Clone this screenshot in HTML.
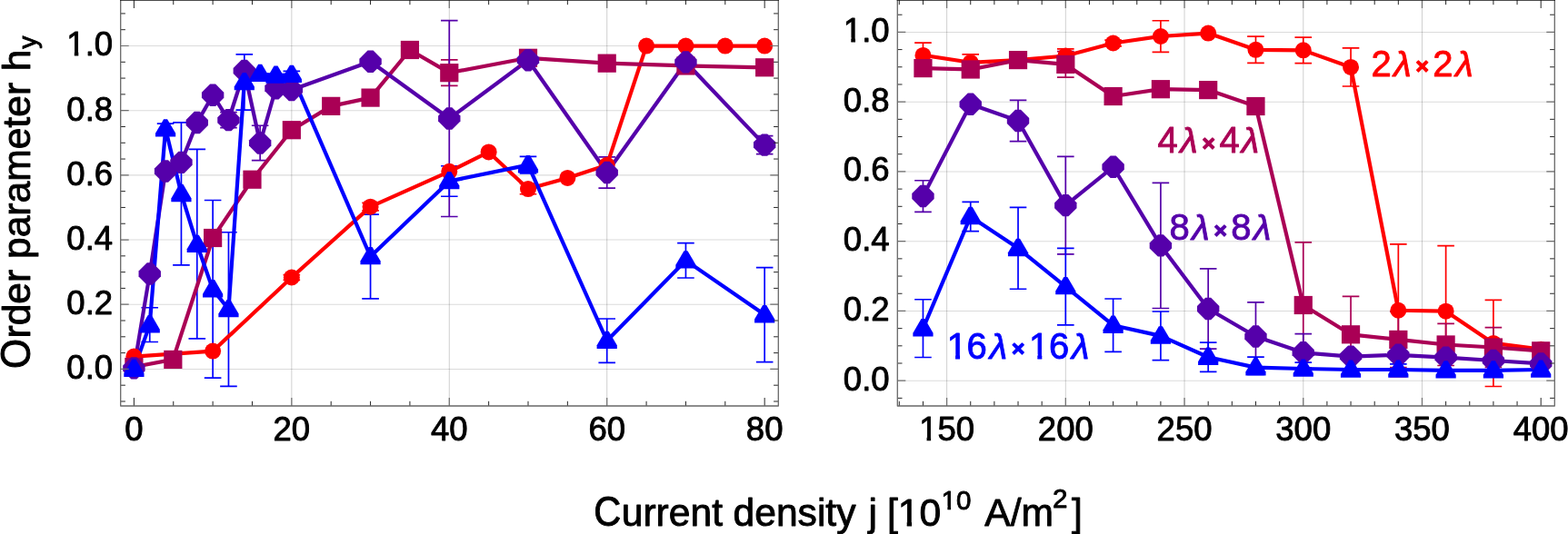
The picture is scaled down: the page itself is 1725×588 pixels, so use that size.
<!DOCTYPE html>
<html lang="en">
<head>
<meta charset="utf-8">
<title>Order parameter vs current density</title>
<style>
html,body{margin:0;padding:0;background:#fff;}
body{width:1725px;height:588px;overflow:hidden;font-family:"Liberation Sans",Arial,Helvetica,sans-serif;}
svg{display:block;}
</style>
</head>
<body>
<svg width="1725" height="588" viewBox="0 0 1725 588" font-family="'Liberation Sans', Arial, Helvetica, sans-serif">
<defs><clipPath id="one"><polygon points="6.6,-80 36,-80 36,3 23.2,3 23.2,-12.5 6.6,-12.5"/></clipPath></defs>
<rect width="1725" height="588" fill="#fff"/>
<g id="left-panel">
<g fill="none" stroke="#000" stroke-width="1.05"><path d="M320.84 0V447M494.28 0V447M667.72 0V447" stroke-opacity="0.18"/><path d="M132.7 406.4H856.3M132.7 335.22H856.3M132.7 264.04H856.3M132.7 192.86H856.3M132.7 121.68H856.3M132.7 50.5H856.3" stroke-opacity="0.14"/></g>
<g fill="none" stroke-width="1.7">
<path stroke="#ff0000" d="M320.84 302.65V308.35M311.54 302.65H330.14M311.54 308.35H330.14M407.56 223.36V231.91M398.26 223.36H416.86M398.26 231.91H416.86M581 202.34V213.74M571.7 202.34H590.3M571.7 213.74H590.3"/>
<path stroke="#aa0055" d="M494.28 65.92V94.41M484.98 65.92H503.58M484.98 94.41H503.58"/>
<path stroke="#5500aa" d="M251.46 123.62V140.72M242.16 123.62H260.76M242.16 140.72H260.76M286.15 138.23V176.69M276.85 138.23H295.45M276.85 176.69H295.45M494.28 22.64V238.5M484.98 22.64H503.58M484.98 238.5H503.58M667.72 172.95V207.15M658.42 172.95H677.02M658.42 207.15H677.02M841.16 149.62V169.57M831.86 149.62H850.46M831.86 169.57H850.46"/>
<path stroke="#0000ff" d="M164.74 338.77V376.52M155.44 338.77H174.04M155.44 376.52H174.04M182.09 136.09V147.49M172.79 136.09H191.39M172.79 147.49H191.39M199.43 134.84V291.93M190.13 134.84H208.73M190.13 291.93H208.73M216.78 164.41V372.96M207.48 164.41H226.08M207.48 372.96H226.08M234.12 220.51V416.06M224.82 220.51H243.42M224.82 416.06H243.42M251.46 255.77V425.32M242.16 255.77H260.76M242.16 425.32H260.76M268.81 59.86V121.13M259.51 59.86H278.11M259.51 121.13H278.11M320.84 78.38V86.22M311.54 78.38H330.14M311.54 86.22H330.14M407.56 236.18V328.79M398.26 236.18H416.86M398.26 328.79H416.86M494.28 182.75V216.23M484.98 182.75H503.58M484.98 216.23H503.58M581 172.42V190.94M571.7 172.42H590.3M571.7 190.94H590.3M667.72 351.02V399.46M658.42 351.02H677.02M658.42 399.46H677.02M754.44 267.53V306M745.14 267.53H763.74M745.14 306H763.74M841.16 294.6V398.61M831.86 294.6H850.46M831.86 398.61H850.46"/>
</g>
<g fill="none" stroke-width="4.2" stroke-linejoin="round">
<polyline stroke="#ff0000" points="147.4,392.55 234.12,386.6 320.84,305.5 407.56,227.63 494.28,188.81 537.64,167.43 581,208.04 624.36,195.93 667.72,181.86 711.08,50.6 754.44,50.6 797.8,50.6 841.16,50.6"/>
<polyline stroke="#aa0055" points="147.4,403.95 190.33,395.9 234.12,262 277.48,197.71 320.84,143.21 364.2,116.85 407.56,107.59 450.92,54.98 494.28,80.16 581,63.78 667.72,69.66 754.44,72.47 841.16,74.29"/>
<polyline stroke="#5500aa" points="147.4,405.38 164.74,301.51 182.09,188.45 199.43,178.83 216.78,135.02 234.12,104.74 251.46,132.17 268.81,78.03 286.15,157.46 303.5,97.26 320.84,99.04 407.56,67.7 494.28,130.57 581,66.27 667.72,190.05 754.44,68.41 841.16,159.6"/>
<polyline stroke="#0000ff" points="147.4,406.09 164.74,357.64 182.09,141.79 199.43,213.38 216.78,269.31 234.12,318.64 251.46,340.55 268.81,90.49 286.15,81.23 303.5,83.01 320.84,82.3 407.56,282.49 494.28,199.49 581,181.68 667.72,375.24 754.44,286.76 841.16,346.6"/>
</g>
<g fill="#ff0000">
<circle cx="147.4" cy="392.55" r="9"/>
<circle cx="234.12" cy="386.6" r="9"/>
<circle cx="320.84" cy="305.5" r="9"/>
<circle cx="407.56" cy="227.63" r="9"/>
<circle cx="494.28" cy="188.81" r="9"/>
<circle cx="537.64" cy="167.43" r="9"/>
<circle cx="581" cy="208.04" r="9"/>
<circle cx="624.36" cy="195.93" r="9"/>
<circle cx="667.72" cy="181.86" r="9"/>
<circle cx="711.08" cy="50.6" r="9"/>
<circle cx="754.44" cy="50.6" r="9"/>
<circle cx="797.8" cy="50.6" r="9"/>
<circle cx="841.16" cy="50.6" r="9"/>
</g>
<g fill="#aa0055">
<rect x="137.3" y="393.85" width="20.2" height="20.2"/>
<rect x="180.23" y="385.8" width="20.2" height="20.2"/>
<rect x="224.02" y="251.9" width="20.2" height="20.2"/>
<rect x="267.38" y="187.61" width="20.2" height="20.2"/>
<rect x="310.74" y="133.11" width="20.2" height="20.2"/>
<rect x="354.1" y="106.75" width="20.2" height="20.2"/>
<rect x="397.46" y="97.49" width="20.2" height="20.2"/>
<rect x="440.82" y="44.88" width="20.2" height="20.2"/>
<rect x="484.18" y="70.06" width="20.2" height="20.2"/>
<rect x="570.9" y="53.68" width="20.2" height="20.2"/>
<rect x="657.62" y="59.56" width="20.2" height="20.2"/>
<rect x="744.34" y="62.37" width="20.2" height="20.2"/>
<rect x="831.06" y="64.19" width="20.2" height="20.2"/>
</g>
<g fill="#5500aa">
<polygon points="144.4,393.18 150.4,393.18 159.6,402.38 159.6,408.38 150.4,417.58 144.4,417.58 135.2,408.38 135.2,402.38"/>
<polygon points="161.74,289.31 167.74,289.31 176.94,298.51 176.94,304.51 167.74,313.71 161.74,313.71 152.54,304.51 152.54,298.51"/>
<polygon points="179.09,176.25 185.09,176.25 194.29,185.45 194.29,191.45 185.09,200.65 179.09,200.65 169.89,191.45 169.89,185.45"/>
<polygon points="196.43,166.63 202.43,166.63 211.63,175.83 211.63,181.83 202.43,191.03 196.43,191.03 187.23,181.83 187.23,175.83"/>
<polygon points="213.78,122.82 219.78,122.82 228.98,132.02 228.98,138.02 219.78,147.22 213.78,147.22 204.58,138.02 204.58,132.02"/>
<polygon points="231.12,92.54 237.12,92.54 246.32,101.74 246.32,107.74 237.12,116.94 231.12,116.94 221.92,107.74 221.92,101.74"/>
<polygon points="248.46,119.97 254.46,119.97 263.66,129.17 263.66,135.17 254.46,144.37 248.46,144.37 239.26,135.17 239.26,129.17"/>
<polygon points="265.81,65.83 271.81,65.83 281.01,75.03 281.01,81.03 271.81,90.23 265.81,90.23 256.61,81.03 256.61,75.03"/>
<polygon points="283.15,145.26 289.15,145.26 298.35,154.46 298.35,160.46 289.15,169.66 283.15,169.66 273.95,160.46 273.95,154.46"/>
<polygon points="300.5,85.06 306.5,85.06 315.7,94.26 315.7,100.26 306.5,109.46 300.5,109.46 291.3,100.26 291.3,94.26"/>
<polygon points="317.84,86.84 323.84,86.84 333.04,96.04 333.04,102.04 323.84,111.24 317.84,111.24 308.64,102.04 308.64,96.04"/>
<polygon points="404.56,55.5 410.56,55.5 419.76,64.7 419.76,70.7 410.56,79.9 404.56,79.9 395.36,70.7 395.36,64.7"/>
<polygon points="491.28,118.37 497.28,118.37 506.48,127.57 506.48,133.57 497.28,142.77 491.28,142.77 482.08,133.57 482.08,127.57"/>
<polygon points="578,54.07 584,54.07 593.2,63.27 593.2,69.27 584,78.47 578,78.47 568.8,69.27 568.8,63.27"/>
<polygon points="664.72,177.85 670.72,177.85 679.92,187.05 679.92,193.05 670.72,202.25 664.72,202.25 655.52,193.05 655.52,187.05"/>
<polygon points="751.44,56.21 757.44,56.21 766.64,65.41 766.64,71.41 757.44,80.61 751.44,80.61 742.24,71.41 742.24,65.41"/>
<polygon points="838.16,147.4 844.16,147.4 853.36,156.6 853.36,162.6 844.16,171.8 838.16,171.8 828.96,162.6 828.96,156.6"/>
</g>
<g fill="#0000ff">
<polygon points="145.4,395.49 149.4,395.49 158.5,411.09 158.5,414.89 136.3,414.89 136.3,411.09"/>
<polygon points="162.74,347.04 166.74,347.04 175.84,362.64 175.84,366.44 153.64,366.44 153.64,362.64"/>
<polygon points="180.09,131.19 184.09,131.19 193.19,146.79 193.19,150.59 170.99,150.59 170.99,146.79"/>
<polygon points="197.43,202.78 201.43,202.78 210.53,218.38 210.53,222.18 188.33,222.18 188.33,218.38"/>
<polygon points="214.78,258.71 218.78,258.71 227.88,274.31 227.88,278.11 205.68,278.11 205.68,274.31"/>
<polygon points="232.12,308.04 236.12,308.04 245.22,323.64 245.22,327.44 223.02,327.44 223.02,323.64"/>
<polygon points="249.46,329.95 253.46,329.95 262.56,345.55 262.56,349.35 240.36,349.35 240.36,345.55"/>
<polygon points="266.81,79.89 270.81,79.89 279.91,95.49 279.91,99.29 257.71,99.29 257.71,95.49"/>
<polygon points="284.15,70.63 288.15,70.63 297.25,86.23 297.25,90.03 275.05,90.03 275.05,86.23"/>
<polygon points="301.5,72.41 305.5,72.41 314.6,88.01 314.6,91.81 292.4,91.81 292.4,88.01"/>
<polygon points="318.84,71.7 322.84,71.7 331.94,87.3 331.94,91.1 309.74,91.1 309.74,87.3"/>
<polygon points="405.56,271.89 409.56,271.89 418.66,287.49 418.66,291.29 396.46,291.29 396.46,287.49"/>
<polygon points="492.28,188.89 496.28,188.89 505.38,204.49 505.38,208.29 483.18,208.29 483.18,204.49"/>
<polygon points="579,171.08 583,171.08 592.1,186.68 592.1,190.48 569.9,190.48 569.9,186.68"/>
<polygon points="665.72,364.64 669.72,364.64 678.82,380.24 678.82,384.04 656.62,384.04 656.62,380.24"/>
<polygon points="752.44,276.16 756.44,276.16 765.54,291.76 765.54,295.56 743.34,295.56 743.34,291.76"/>
<polygon points="839.16,336 843.16,336 852.26,351.6 852.26,355.4 830.06,355.4 830.06,351.6"/>
</g>
<path d="M147.4 447v-9M147.4 0v9M190.76 447v-5.2M190.76 0v5.2M234.12 447v-5.2M234.12 0v5.2M277.48 447v-5.2M277.48 0v5.2M364.2 447v-5.2M364.2 0v5.2M407.56 447v-5.2M407.56 0v5.2M450.92 447v-5.2M450.92 0v5.2M537.64 447v-5.2M537.64 0v5.2M581 447v-5.2M581 0v5.2M624.36 447v-5.2M624.36 0v5.2M711.08 447v-5.2M711.08 0v5.2M754.44 447v-5.2M754.44 0v5.2M797.8 447v-5.2M797.8 0v5.2M841.16 447v-9M841.16 0v9M132.7 441.99h5.2M856.3 441.99h-5.2M132.7 424.19h5.2M856.3 424.19h-5.2M132.7 388.6h5.2M856.3 388.6h-5.2M132.7 370.81h5.2M856.3 370.81h-5.2M132.7 353.01h5.2M856.3 353.01h-5.2M132.7 317.42h5.2M856.3 317.42h-5.2M132.7 299.63h5.2M856.3 299.63h-5.2M132.7 281.83h5.2M856.3 281.83h-5.2M132.7 246.24h5.2M856.3 246.24h-5.2M132.7 228.45h5.2M856.3 228.45h-5.2M132.7 210.65h5.2M856.3 210.65h-5.2M132.7 175.06h5.2M856.3 175.06h-5.2M132.7 157.27h5.2M856.3 157.27h-5.2M132.7 139.48h5.2M856.3 139.48h-5.2M132.7 103.88h5.2M856.3 103.88h-5.2M132.7 86.09h5.2M856.3 86.09h-5.2M132.7 68.3h5.2M856.3 68.3h-5.2M132.7 32.7h5.2M856.3 32.7h-5.2M132.7 14.91h5.2M856.3 14.91h-5.2" stroke="#262626" stroke-width="1" fill="none"/>
<path d="M320.84 447v-9M320.84 0v9M494.28 447v-9M494.28 0v9M667.72 447v-9M667.72 0v9M132.7 406.4h9M856.3 406.4h-9M132.7 335.22h9M856.3 335.22h-9M132.7 264.04h9M856.3 264.04h-9M132.7 192.86h9M856.3 192.86h-9M132.7 121.68h9M856.3 121.68h-9M132.7 50.5h9M856.3 50.5h-9" stroke="#6e6e6e" stroke-width="1.2" fill="none"/>
<path d="M132.7 0V447H856.3V0" stroke="#686868" stroke-width="1.3" stroke-linejoin="round" fill="none"/>
<path d="M132.1 0.15H856.9" stroke="#111" stroke-width="1.3" fill="none"/>
<g font-size="36.5" fill="#000" stroke="#000" stroke-width="0.9" stroke-linejoin="round">
<text x="137.25" y="484.7">0</text>
<text x="300.54" y="484.7">20</text>
<text x="473.98" y="484.7">40</text>
<text x="647.42" y="484.7">60</text>
<text x="820.86" y="484.7">80</text>
<text x="73.36" y="417.3">0.0</text>
<text x="73.36" y="346.12">0.2</text>
<text x="73.36" y="274.94">0.4</text>
<text x="73.36" y="203.76">0.6</text>
<text x="73.36" y="132.58">0.8</text>
<g transform="translate(73.36 61.4) scale(0.3650)"><text clip-path="url(#one)" font-size="100" stroke-width="2.47">1</text></g><text x="93.66" y="61.4">.0</text>
</g>
</g>
<g id="right-panel">
<g fill="none" stroke="#000" stroke-width="1.05"><path d="M1041.6 0V447M1172.32 0V447M1303.04 0V447M1433.76 0V447M1564.48 0V447" stroke-opacity="0.18"/><path d="M987.3 419.2H1710.3M987.3 342.44H1710.3M987.3 265.68H1710.3M987.3 188.92H1710.3M987.3 112.16H1710.3M987.3 35.4H1710.3" stroke-opacity="0.14"/></g>
<g fill="none" stroke-width="1.7">
<path stroke="#ff0000" d="M1015.46 47.07V74.7M1006.16 47.07H1024.76M1006.16 74.7H1024.76M1067.74 59.96V77.62M1058.44 59.96H1077.04M1058.44 77.62H1077.04M1172.32 53.82V69.17M1163.02 53.82H1181.62M1163.02 69.17H1181.62M1224.61 44.04V50.94M1215.31 44.04H1233.91M1215.31 50.94H1233.91M1276.9 22.73V57.28M1267.6 22.73H1286.2M1267.6 57.28H1286.2M1381.47 40.2V69.37M1372.17 40.2H1390.77M1372.17 69.37H1390.77M1433.76 41.16V69.56M1424.46 41.16H1443.06M1424.46 69.56H1443.06M1486.05 52.79V95M1476.75 52.79H1495.35M1476.75 95H1495.35M1538.34 268.83V414.67M1529.04 268.83H1547.64M1529.04 414.67H1547.64M1590.62 270.55V414.86M1581.32 270.55H1599.92M1581.32 414.86H1599.92M1642.91 330.31V425.49M1633.61 330.31H1652.21M1633.61 425.49H1652.21"/>
<path stroke="#aa0055" d="M1172.32 56.7V85.1M1163.02 56.7H1181.62M1163.02 85.1H1181.62M1433.76 266.91V405.08M1424.46 266.91H1443.06M1424.46 405.08H1443.06M1486.05 326.47V410.14M1476.75 326.47H1495.35M1476.75 410.14H1495.35M1538.34 343.21V404.62M1529.04 343.21H1547.64M1529.04 404.62H1547.64M1590.62 356.45V402.5M1581.32 356.45H1599.92M1581.32 402.5H1599.92M1642.91 360.63V404.39M1633.61 360.63H1652.21M1633.61 404.39H1652.21"/>
<path stroke="#5500aa" d="M1015.46 198.75V233.29M1006.16 198.75H1024.76M1006.16 233.29H1024.76M1120.03 110.36V155.64M1110.73 110.36H1129.33M1110.73 155.64H1129.33M1172.32 172.42V279.88M1163.02 172.42H1181.62M1163.02 279.88H1181.62M1276.9 201.32V339.48M1267.6 201.32H1286.2M1267.6 339.48H1286.2M1329.18 295.85V384.12M1319.88 295.85H1338.48M1319.88 384.12H1338.48M1381.47 332.88V408.11M1372.17 332.88H1390.77M1372.17 408.11H1390.77M1433.76 367.58V409.03M1424.46 367.58H1443.06M1424.46 409.03H1443.06"/>
<path stroke="#0000ff" d="M1015.46 329.77V393.49M1006.16 329.77H1024.76M1006.16 393.49H1024.76M1067.74 222.31V254.55M1058.44 222.31H1077.04M1058.44 254.55H1077.04M1120.03 228.45V318.26M1110.73 228.45H1129.33M1110.73 318.26H1129.33M1172.32 273.36V357.79M1163.02 273.36H1181.62M1163.02 357.79H1181.62M1224.61 329.01V387.34M1215.31 329.01H1233.91M1215.31 387.34H1233.91M1276.9 342.98V396.71M1267.6 342.98H1286.2M1267.6 396.71H1286.2M1329.18 377.1V409.34M1319.88 377.1H1338.48M1319.88 409.34H1338.48M1381.47 393.1V412.29M1372.17 393.1H1390.77M1372.17 412.29H1390.77M1433.76 399.09V412.91M1424.46 399.09H1443.06M1424.46 412.91H1443.06M1538.34 400.85V413.14M1529.04 400.85H1547.64M1529.04 413.14H1547.64"/>
</g>
<g fill="none" stroke-width="4.2" stroke-linejoin="round">
<polyline stroke="#ff0000" points="1015.46,60.88 1067.74,68.79 1120.03,66.1 1172.32,61.5 1224.61,47.49 1276.9,40.01 1329.18,36.55 1381.47,54.78 1433.76,55.36 1486.05,73.9 1538.34,341.75 1590.62,342.71 1642.91,377.9 1695.2,384.66"/>
<polyline stroke="#aa0055" points="1015.46,75.12 1067.74,76.47 1120.03,66.1 1172.32,70.9 1224.61,106.02 1276.9,98.19 1329.18,99.11 1381.47,117 1433.76,335.99 1486.05,368.31 1538.34,373.91 1590.62,379.48 1642.91,382.51 1695.2,386.31"/>
<polyline stroke="#5500aa" points="1015.46,216.02 1067.74,114.69 1120.03,133 1172.32,226.15 1224.61,183.82 1276.9,270.4 1329.18,339.98 1381.47,370.5 1433.76,388.3 1486.05,392.6 1538.34,390.8 1590.62,393.6 1642.91,397.02 1695.2,400.39"/>
<polyline stroke="#0000ff" points="1015.46,361.63 1067.74,238.43 1120.03,273.36 1172.32,315.57 1224.61,358.18 1276.9,369.84 1329.18,393.22 1381.47,404.62 1433.76,406 1486.05,407 1538.34,407 1590.62,407.8 1642.91,407.8 1695.2,407"/>
</g>
<g fill="#ff0000">
<circle cx="1015.46" cy="60.88" r="9"/>
<circle cx="1067.74" cy="68.79" r="9"/>
<circle cx="1120.03" cy="66.1" r="9"/>
<circle cx="1172.32" cy="61.5" r="9"/>
<circle cx="1224.61" cy="47.49" r="9"/>
<circle cx="1276.9" cy="40.01" r="9"/>
<circle cx="1329.18" cy="36.55" r="9"/>
<circle cx="1381.47" cy="54.78" r="9"/>
<circle cx="1433.76" cy="55.36" r="9"/>
<circle cx="1486.05" cy="73.9" r="9"/>
<circle cx="1538.34" cy="341.75" r="9"/>
<circle cx="1590.62" cy="342.71" r="9"/>
<circle cx="1642.91" cy="377.9" r="9"/>
<circle cx="1695.2" cy="384.66" r="9"/>
</g>
<g fill="#aa0055">
<rect x="1005.36" y="65.02" width="20.2" height="20.2"/>
<rect x="1057.64" y="66.37" width="20.2" height="20.2"/>
<rect x="1109.93" y="56" width="20.2" height="20.2"/>
<rect x="1162.22" y="60.8" width="20.2" height="20.2"/>
<rect x="1214.51" y="95.92" width="20.2" height="20.2"/>
<rect x="1266.8" y="88.09" width="20.2" height="20.2"/>
<rect x="1319.08" y="89.01" width="20.2" height="20.2"/>
<rect x="1371.37" y="106.9" width="20.2" height="20.2"/>
<rect x="1423.66" y="325.89" width="20.2" height="20.2"/>
<rect x="1475.95" y="358.21" width="20.2" height="20.2"/>
<rect x="1528.24" y="363.81" width="20.2" height="20.2"/>
<rect x="1580.52" y="369.38" width="20.2" height="20.2"/>
<rect x="1632.81" y="372.41" width="20.2" height="20.2"/>
<rect x="1685.1" y="376.21" width="20.2" height="20.2"/>
</g>
<g fill="#5500aa">
<polygon points="1012.46,203.82 1018.46,203.82 1027.66,213.02 1027.66,219.02 1018.46,228.22 1012.46,228.22 1003.26,219.02 1003.26,213.02"/>
<polygon points="1064.74,102.49 1070.74,102.49 1079.94,111.69 1079.94,117.69 1070.74,126.89 1064.74,126.89 1055.54,117.69 1055.54,111.69"/>
<polygon points="1117.03,120.8 1123.03,120.8 1132.23,130 1132.23,136 1123.03,145.2 1117.03,145.2 1107.83,136 1107.83,130"/>
<polygon points="1169.32,213.95 1175.32,213.95 1184.52,223.15 1184.52,229.15 1175.32,238.35 1169.32,238.35 1160.12,229.15 1160.12,223.15"/>
<polygon points="1221.61,171.62 1227.61,171.62 1236.81,180.82 1236.81,186.82 1227.61,196.02 1221.61,196.02 1212.41,186.82 1212.41,180.82"/>
<polygon points="1273.9,258.2 1279.9,258.2 1289.1,267.4 1289.1,273.4 1279.9,282.6 1273.9,282.6 1264.7,273.4 1264.7,267.4"/>
<polygon points="1326.18,327.78 1332.18,327.78 1341.38,336.98 1341.38,342.98 1332.18,352.18 1326.18,352.18 1316.98,342.98 1316.98,336.98"/>
<polygon points="1378.47,358.3 1384.47,358.3 1393.67,367.5 1393.67,373.5 1384.47,382.7 1378.47,382.7 1369.27,373.5 1369.27,367.5"/>
<polygon points="1430.76,376.1 1436.76,376.1 1445.96,385.3 1445.96,391.3 1436.76,400.5 1430.76,400.5 1421.56,391.3 1421.56,385.3"/>
<polygon points="1483.05,380.4 1489.05,380.4 1498.25,389.6 1498.25,395.6 1489.05,404.8 1483.05,404.8 1473.85,395.6 1473.85,389.6"/>
<polygon points="1535.34,378.6 1541.34,378.6 1550.54,387.8 1550.54,393.8 1541.34,403 1535.34,403 1526.14,393.8 1526.14,387.8"/>
<polygon points="1587.62,381.4 1593.62,381.4 1602.82,390.6 1602.82,396.6 1593.62,405.8 1587.62,405.8 1578.42,396.6 1578.42,390.6"/>
<polygon points="1639.91,384.82 1645.91,384.82 1655.11,394.02 1655.11,400.02 1645.91,409.22 1639.91,409.22 1630.71,400.02 1630.71,394.02"/>
<polygon points="1692.2,388.19 1698.2,388.19 1707.4,397.39 1707.4,403.39 1698.2,412.59 1692.2,412.59 1683,403.39 1683,397.39"/>
</g>
<g fill="#0000ff">
<polygon points="1013.46,351.03 1017.46,351.03 1026.56,366.63 1026.56,370.43 1004.36,370.43 1004.36,366.63"/>
<polygon points="1065.74,227.83 1069.74,227.83 1078.84,243.43 1078.84,247.23 1056.64,247.23 1056.64,243.43"/>
<polygon points="1118.03,262.76 1122.03,262.76 1131.13,278.36 1131.13,282.16 1108.93,282.16 1108.93,278.36"/>
<polygon points="1170.32,304.97 1174.32,304.97 1183.42,320.57 1183.42,324.37 1161.22,324.37 1161.22,320.57"/>
<polygon points="1222.61,347.58 1226.61,347.58 1235.71,363.18 1235.71,366.98 1213.51,366.98 1213.51,363.18"/>
<polygon points="1274.9,359.24 1278.9,359.24 1288,374.84 1288,378.64 1265.8,378.64 1265.8,374.84"/>
<polygon points="1327.18,382.62 1331.18,382.62 1340.28,398.22 1340.28,402.02 1318.08,402.02 1318.08,398.22"/>
<polygon points="1379.47,394.02 1383.47,394.02 1392.57,409.62 1392.57,413.42 1370.37,413.42 1370.37,409.62"/>
<polygon points="1431.76,395.4 1435.76,395.4 1444.86,411 1444.86,414.8 1422.66,414.8 1422.66,411"/>
<polygon points="1484.05,396.4 1488.05,396.4 1497.15,412 1497.15,415.8 1474.95,415.8 1474.95,412"/>
<polygon points="1536.34,396.4 1540.34,396.4 1549.44,412 1549.44,415.8 1527.24,415.8 1527.24,412"/>
<polygon points="1588.62,397.2 1592.62,397.2 1601.72,412.8 1601.72,416.6 1579.52,416.6 1579.52,412.8"/>
<polygon points="1640.91,397.2 1644.91,397.2 1654.01,412.8 1654.01,416.6 1631.81,416.6 1631.81,412.8"/>
<polygon points="1693.2,396.4 1697.2,396.4 1706.3,412 1706.3,415.8 1684.1,415.8 1684.1,412"/>
</g>
<path d="M989.31 447v-5.2M989.31 0v5.2M1015.46 447v-5.2M1015.46 0v5.2M1067.74 447v-5.2M1067.74 0v5.2M1093.89 447v-5.2M1093.89 0v5.2M1120.03 447v-5.2M1120.03 0v5.2M1146.18 447v-5.2M1146.18 0v5.2M1198.46 447v-5.2M1198.46 0v5.2M1224.61 447v-5.2M1224.61 0v5.2M1250.75 447v-5.2M1250.75 0v5.2M1276.9 447v-5.2M1276.9 0v5.2M1329.18 447v-5.2M1329.18 0v5.2M1355.33 447v-5.2M1355.33 0v5.2M1381.47 447v-5.2M1381.47 0v5.2M1407.62 447v-5.2M1407.62 0v5.2M1459.9 447v-5.2M1459.9 0v5.2M1486.05 447v-5.2M1486.05 0v5.2M1512.19 447v-5.2M1512.19 0v5.2M1538.34 447v-5.2M1538.34 0v5.2M1590.62 447v-5.2M1590.62 0v5.2M1616.77 447v-5.2M1616.77 0v5.2M1642.91 447v-5.2M1642.91 0v5.2M1669.06 447v-5.2M1669.06 0v5.2M1695.2 447v-9M1695.2 0v9M987.3 438.39h5.2M1710.3 438.39h-5.2M987.3 400.01h5.2M1710.3 400.01h-5.2M987.3 380.82h5.2M1710.3 380.82h-5.2M987.3 361.63h5.2M1710.3 361.63h-5.2M987.3 323.25h5.2M1710.3 323.25h-5.2M987.3 304.06h5.2M1710.3 304.06h-5.2M987.3 284.87h5.2M1710.3 284.87h-5.2M987.3 246.49h5.2M1710.3 246.49h-5.2M987.3 227.3h5.2M1710.3 227.3h-5.2M987.3 208.11h5.2M1710.3 208.11h-5.2M987.3 169.73h5.2M1710.3 169.73h-5.2M987.3 150.54h5.2M1710.3 150.54h-5.2M987.3 131.35h5.2M1710.3 131.35h-5.2M987.3 92.97h5.2M1710.3 92.97h-5.2M987.3 73.78h5.2M1710.3 73.78h-5.2M987.3 54.59h5.2M1710.3 54.59h-5.2M987.3 16.21h5.2M1710.3 16.21h-5.2" stroke="#262626" stroke-width="1" fill="none"/>
<path d="M1041.6 447v-9M1041.6 0v9M1172.32 447v-9M1172.32 0v9M1303.04 447v-9M1303.04 0v9M1433.76 447v-9M1433.76 0v9M1564.48 447v-9M1564.48 0v9M987.3 419.2h9M1710.3 419.2h-9M987.3 342.44h9M1710.3 342.44h-9M987.3 265.68h9M1710.3 265.68h-9M987.3 188.92h9M1710.3 188.92h-9M987.3 112.16h9M1710.3 112.16h-9M987.3 35.4h9M1710.3 35.4h-9" stroke="#6e6e6e" stroke-width="1.2" fill="none"/>
<path d="M987.3 0V447H1710.3V0" stroke="#686868" stroke-width="1.3" stroke-linejoin="round" fill="none"/>
<path d="M986.7 0.15H1710.9" stroke="#111" stroke-width="1.3" fill="none"/>
<g font-size="36.5" fill="#000" stroke="#000" stroke-width="0.9" stroke-linejoin="round">
<g transform="translate(1011.15 484.7) scale(0.3650)"><text clip-path="url(#one)" font-size="100" stroke-width="2.47">1</text></g><text x="1031.45" y="484.7">50</text>
<text x="1141.87" y="484.7">200</text>
<text x="1272.59" y="484.7">250</text>
<text x="1403.31" y="484.7">300</text>
<text x="1534.03" y="484.7">350</text>
<text x="1664.75" y="484.7">400</text>
<text x="927.86" y="429.7">0.0</text>
<text x="927.86" y="352.94">0.2</text>
<text x="927.86" y="276.18">0.4</text>
<text x="927.86" y="199.42">0.6</text>
<text x="927.86" y="122.66">0.8</text>
<g transform="translate(927.86 45.9) scale(0.3650)"><text clip-path="url(#one)" font-size="100" stroke-width="2.47">1</text></g><text x="948.16" y="45.9">.0</text>
</g>
</g>
<g id="series-labels">
<g fill="#ff0000" stroke="#ff0000" stroke-width="0.9" stroke-linejoin="round" font-size="40"><text><tspan x="1508.4" y="83.9">2</tspan><tspan x="1533.35" y="83.9" font-style="italic" font-size="39.5">λ</tspan><tspan x="1557.5" y="81.43" font-size="24.5" font-weight="bold" stroke-width="1.3">×</tspan><tspan x="1576.3" y="83.9">2</tspan><tspan x="1601.25" y="83.9" font-style="italic" font-size="39.5">λ</tspan></text></g>
<g fill="#aa0055" stroke="#aa0055" stroke-width="0.9" stroke-linejoin="round" font-size="40"><text><tspan x="1273.5" y="167.9">4</tspan><tspan x="1298.35" y="167.9" font-style="italic" font-size="39.5">λ</tspan><tspan x="1322.4" y="165.72" font-size="24.5" font-weight="bold" stroke-width="1.3">×</tspan><tspan x="1341.5" y="167.9">4</tspan><tspan x="1365.75" y="167.9" font-style="italic" font-size="39.5">λ</tspan></text></g>
<g fill="#5500aa" stroke="#5500aa" stroke-width="0.9" stroke-linejoin="round" font-size="40"><text><tspan x="1286.45" y="264.2">8</tspan><tspan x="1311.15" y="264.2" font-style="italic" font-size="39.5">λ</tspan><tspan x="1335.4" y="261.73" font-size="24.5" font-weight="bold" stroke-width="1.3">×</tspan><tspan x="1354.35" y="264.2">8</tspan><tspan x="1379.05" y="264.2" font-style="italic" font-size="39.5">λ</tspan></text></g>
<g fill="#0000ff" stroke="#0000ff" stroke-width="0.9" stroke-linejoin="round" font-size="40"><g transform="translate(1041.8 394.9) scale(0.4000)"><text clip-path="url(#one)" font-size="100" stroke-width="2.25">1</text></g><text><tspan x="1063.6" y="394.9">6</tspan><tspan x="1088.75" y="394.9" font-style="italic" font-size="39.5">λ</tspan><tspan x="1112.9" y="392.42" font-size="24.5" font-weight="bold" stroke-width="1.3">×</tspan></text><g transform="translate(1132.1 394.9) scale(0.4000)"><text clip-path="url(#one)" font-size="100" stroke-width="2.25">1</text></g><text><tspan x="1153.9" y="394.9">6</tspan><tspan x="1179.05" y="394.9" font-style="italic" font-size="39.5">λ</tspan></text></g>
</g>
<g id="axis-labels" fill="#000" stroke="#000" stroke-width="0.9" stroke-linejoin="round" font-size="42.6">
<text transform="translate(653.19 579.1) scale(0.975 1.07)">C</text><text><tspan x="683.75" y="579">urrent</tspan> <tspan x="806.55" y="579">density</tspan> <tspan x="955.4" y="579">j</tspan> <tspan x="975.9" y="579">[</tspan></text><g transform="translate(987.85 579) scale(0.4260)"><text clip-path="url(#one)" font-size="100" stroke-width="2.11">1</text></g><text x="1011.55" y="579" font-size="42.6">0</text><g transform="translate(1035.6 560.9) scale(0.2960)"><text clip-path="url(#one)" font-size="100" stroke-width="3.04">1</text></g><text x="1052.07" y="560.9" font-size="29.6">0</text><text> <tspan x="1083.25" y="579">A/m</tspan><tspan x="1158.1" y="559.4" font-size="29.6">2</tspan><tspan x="1179.1" y="579">]</tspan></text>
<g transform="translate(32.9 404.6) rotate(-90)"><text transform="translate(-1.5 0.2) scale(1.0 1.083)">O</text><text><tspan x="32.1" y="0">rder</tspan> <tspan x="119.55" y="0">parameter</tspan> <tspan x="326.3" y="0">h</tspan><tspan x="350.75" y="7" font-size="28.5">y</tspan></text></g>
</g>
</svg>
</body>
</html>
